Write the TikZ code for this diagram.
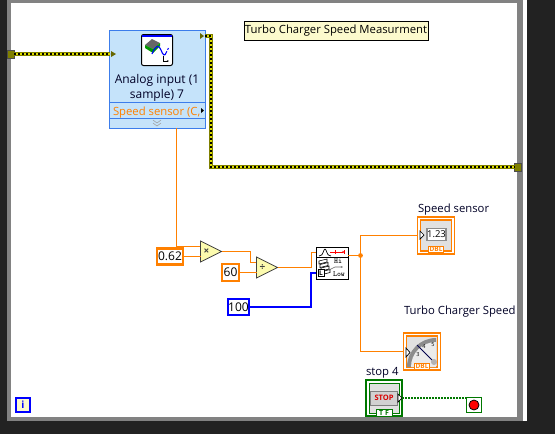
\documentclass[tikz,border=0pt]{standalone}
\usepackage{fontspec}
\setmainfont{Open Sans}
\usetikzlibrary{arrows.meta, shapes.geometric}
\definecolor{numcolor}{RGB}{255, 128, 0}
\definecolor{intcolor}{RGB}{0, 0, 255}
\definecolor{boolcolor}{RGB}{0, 120, 0}
\definecolor{buscolor}{RGB}{128, 128, 0}
\definecolor{busfill}{RGB}{220, 220, 0}
\definecolor{panelcolor}{RGB}{130, 130, 130}
\definecolor{darkcolor}{RGB}{34, 34, 34}
\definecolor{daqfill}{RGB}{197, 227, 250}
\definecolor{daqedge}{RGB}{60, 125, 235}
\definecolor{funcfill}{RGB}{252, 250, 205}
\definecolor{termfill}{RGB}{225, 225, 225}

\begin{document}
\begin{tikzpicture}[
    x=1pt, y=-1pt,
    every node/.style={inner sep=0pt, outer sep=0pt},
    label text/.style={font=\fontsize{11.3}{13}\selectfont, text=black!85!blue},
    constbox/.style={draw=#1, line width=2.8pt, fill=white, font=\fontsize{12}{13}\selectfont},
    funcnode/.style={isosceles triangle, isosceles triangle stretches, shape border rotate=0,
      draw=black!75, line width=0.8pt, fill=funcfill!85!yellow, minimum width=21pt, minimum height=21pt},
    termbox/.style={draw=#1, line width=1.2pt, minimum width=37pt, minimum height=37pt},
    tiptri/.style={draw=black, fill=white, line width=0.7pt},
    numwire/.style={numcolor, line width=1pt},
    intwire/.style={intcolor, line width=1.5pt},
    boolwire/.style={boolcolor, line width=1.5pt, dash pattern=on 1.5pt off 1.5pt},
    buswire/.style={buscolor, line width=3.4pt,
      postaction={draw=busfill, line width=1.8pt},
      postaction={draw=black, line width=1.8pt, dash pattern=on 2pt off 2pt}},
    tunnel/.style={draw=black!70, fill=buscolor, minimum width=7pt, minimum height=8pt},
  ]

  % --- Window ---
  \useasboundingbox (0, 0) rectangle (555, 434);
  \fill[darkcolor] (0, 0) rectangle (555, 434);
  \fill[white] (523, 0) rectangle (527, 421);
  \fill[panelcolor] (7, 0) rectangle (523, 421);
  \fill[white] (11, 3) rectangle (517, 417);

  % --- Comment and labels ---
  \node[draw=black, fill=funcfill, minimum width=184pt, minimum height=19pt,
    font=\fontsize{11.3}{13}\selectfont] (note) at (336, 30.5) {\raisebox{-1pt}{Turbo Charger Speed Measurment}};
  \node[label text, anchor=west] (speedlabel) at (418, 209.5) {Speed sensor};
  \node[label text, anchor=west] (turbolabel) at (404, 311.5) {Turbo Charger Speed};
  \node[label text, anchor=west] (stoplabel) at (366, 372.5) {stop 4};

  % --- DAQ assistant ---
  \node[draw=daqedge, fill=daqfill, line width=1pt, minimum width=96pt, minimum height=98pt]
    (daq) at (157, 79) {};
  \draw[daqedge, line width=1pt] (109, 102.5) -- (205, 102.5) (109, 118.5) -- (205, 118.5);
  \node[draw=black, fill=white, rounded corners=2pt, line width=1pt, minimum width=31pt,
    minimum height=31pt] (daqicon) at (157, 50) {};
  \fill[intcolor] (142, 35) rectangle (172, 36.5);
  \fill[black!60] (145, 45) -- (152, 39) -- (160, 43) -- (153, 49) -- cycle;
  \fill[green!60!black] (145, 45) -- (153, 49) -- (160, 43) -- (160, 46) -- (153, 53) -- (145, 48) -- cycle;
  \draw[intcolor, line width=1.1pt] (152, 54) .. controls (156, 44) and (159, 45) .. (161, 50)
    .. controls (163, 56) and (165, 56) .. (166, 53);
  \draw[intcolor, line width=1.1pt, dash pattern=on 2pt off 1.5pt] (166, 53) -- (169, 47);
  \draw[black, -{Stealth[length=2pt]}, line width=0.7pt] (163, 56) -- (163, 61) -- (169, 61);
  \node[font=\fontsize{12}{15}\selectfont, align=center, text=black!85!blue] (daqtext)
    at (157, 87.5) {Analog input (1\\sample) 7};
  \node[font=\fontsize{11.3}{13}\selectfont, text=numcolor, anchor=west] (daqrow)
    at (113, 112.5) {Speed sensor (C,};
  \fill[black] (201, 108) -- (204, 110.5) -- (201, 113) -- cycle;
  \draw[black!40, line width=0.5pt] (153, 120) -- (157, 123) -- (161, 120)
    (153, 123) -- (157, 126) -- (161, 123);
  \fill[buscolor!80!black] (111, 51) -- (116, 54) -- (111, 57) -- cycle;
  \fill[buscolor!80!black] (200, 33) -- (204, 36) -- (200, 39) -- cycle;

  % --- Error wires and tunnels ---
  \node[tunnel] (tunnelin) at (10.5, 54) {};
  \node[tunnel] (tunnelout) at (518, 167) {};
  \coordinate (daqerrin) at (110, 54);
  \coordinate (daqerrout) at (205, 36);
  \coordinate (buscorner) at (211, 36);
  \draw[buswire] (tunnelin.east) -- (daqerrin);
  \draw[buswire] (daqerrout) -- (buscorner) |- (tunnelout.west);

  % --- Constants and functions ---
  \node[constbox=numcolor, minimum width=26pt, minimum height=16pt] (gain) at (170, 256.5) {0.62};
  \node[constbox=numcolor, minimum width=17pt, minimum height=17pt] (divisor) at (230.5, 272.5) {60};
  \node[constbox=intcolor, minimum width=21pt, minimum height=16pt] (limit) at (238.5, 307) {100};
  \node[funcnode] (mult) at (207, 251.5) {};
  \node[funcnode] (divide) at (263, 267.5) {};
  \node[font=\fontsize{10}{10}\selectfont\bfseries, text=black!75] (multsign) at (206.5, 251.5) {×};
  \node[font=\fontsize{10}{10}\selectfont\bfseries, text=black!75] (divsign) at (262.5, 267.5) {÷};

  % --- Peak detector ---
  \node[draw=black, fill=white, line width=1pt, minimum width=32pt, minimum height=32pt]
    (peak) at (332, 263) {};
  \draw[black, line width=1pt] (316, 257.5) -- (348, 257.5);
  \draw[black, line width=0.7pt] (319, 256) .. controls (324, 256) and (323, 249) .. (325, 249)
    .. controls (327, 249) and (326, 256) .. (331, 256);
  \draw[red, line width=0.8pt, -{Stealth[length=3pt]}] (330, 252) -- (345, 252);
  \draw[red, line width=0.8pt] (335, 250) -- (335, 254) (344, 250) -- (344, 254);
  \foreach \i in {0, 1, 2, 3} {
    \draw[black, fill=white, line width=0.6pt] (319+\i, 261+3.5*\i) -- (327+\i, 259+3.5*\i)
      -- (327+\i, 262+3.5*\i) -- (319+\i, 264+3.5*\i) -- cycle;
  }
  \node[draw=black, fill=white, line width=0.6pt, minimum width=6pt, minimum height=7pt,
    font=\fontsize{6.5}{6.5}\selectfont\bfseries] (peakl) at (321, 273) {L};
  \node[font=\fontsize{7.5}{7.5}\selectfont\ttfamily\bfseries] (peakhi) at (338, 261) {Hi};
  \node[font=\fontsize{7.5}{7.5}\selectfont\ttfamily\bfseries] (peaklow) at (339, 274) {Low};
  \draw[black!60, line width=0.6pt, -{Stealth[length=2pt]}] (329, 270) -- (335, 267) -- (343, 267);

  % --- Speed sensor indicator ---
  \node[termbox=numcolor, fill=white] (speedterm) at (436, 235.5) {};
  \node[draw=numcolor, fill=termfill, line width=1.2pt, minimum width=31pt, minimum height=31pt]
    (speedinner) at (436, 235.5) {};
  \node[draw=black!45, line width=1.5pt, fill=white, minimum width=19pt, minimum height=12pt,
    font=\fontsize{9.5}{9.5}\selectfont] (speedvalue) at (436.5, 234.5) {1.23};
  \node[fill=white, draw=numcolor, line width=0.8pt, minimum width=15pt, minimum height=6pt,
    font=\fontsize{6.5}{6.5}\selectfont\bfseries, text=numcolor] (speeddbl) at (436, 249) {DBL};
  \draw[tiptri] (420, 231) -- (424, 235) -- (420, 239) -- cycle;

  % --- Turbo speed gauge ---
  \node[termbox=numcolor, fill=white] (gaugeterm) at (422, 351.5) {};
  \node[draw=numcolor, fill=termfill, line width=1.2pt, minimum width=31pt, minimum height=31pt]
    (gaugeinner) at (422, 351.5) {};
  \fill[black!45] (407, 367) arc[start angle=180, end angle=270, radius=29] -- (436, 367) -- cycle;
  \fill[black!8] (411, 367) arc[start angle=180, end angle=270, radius=25] -- (436, 367) -- cycle;
  \draw[black!70!blue, line width=1pt] (417, 345) -- (433, 361);
  \fill[black!30] (434, 362) circle (3pt);
  \node[font=\fontsize{5.5}{6}\selectfont] (gaugethree) at (418, 355) {3};
  \node[font=\fontsize{5.5}{6}\selectfont] (gaugefour) at (424, 347) {4};
  \node[font=\fontsize{5.5}{6}\selectfont] (gaugefive) at (433, 345) {5};
  \node[fill=white, draw=numcolor, line width=0.8pt, minimum width=15pt, minimum height=6pt,
    font=\fontsize{6.5}{6.5}\selectfont\bfseries, text=numcolor] (gaugedbl) at (422, 366) {DBL};
  \draw[tiptri] (406, 348) -- (410, 352.5) -- (406, 357) -- cycle;

  % --- Stop button ---
  \node[draw=boolcolor, fill=white, line width=2.2pt, minimum width=36pt, minimum height=36pt]
    (stopterm) at (384, 398) {};
  \node[draw=boolcolor, fill=termfill, line width=1pt, minimum width=30pt, minimum height=30pt]
    (stopinner) at (384, 398) {};
  \node[draw=black!50, fill=black!18, line width=1pt, minimum width=27pt, minimum height=14pt,
    font=\fontsize{7.5}{7.5}\selectfont\bfseries, text=red!85!black] (stopbutton) at (384, 398) {STOP};
  \node[draw=boolcolor, fill=white, line width=0.8pt, minimum width=16pt, minimum height=7pt,
    font=\fontsize{7}{7}\selectfont\bfseries, text=boolcolor] (stoptf) at (384, 412.5) {T F};
  \draw[tiptri] (398, 394) -- (402, 398) -- (398, 402) -- cycle;

  % --- Loop condition ---
  \node[draw=boolcolor, fill=white, line width=1pt, minimum width=15pt, minimum height=15pt]
    (loopstop) at (474, 405) {};
  \node[circle, draw=black, fill=red, line width=0.8pt, minimum size=10pt] (loopdot) at (474, 405) {};

  % --- Iteration info ---
  \node[draw=intcolor, fill=funcfill, line width=2pt, minimum width=14pt, minimum height=14pt,
    font=\fontsize{10}{10}\selectfont\bfseries, text=intcolor] (iter) at (23, 405) {i};

  % --- Wires ---
  \coordinate (daqout) at (176.5, 128);
  \coordinate (multin) at (200, 246.5);
  \coordinate (multout) at (250.5, 251.5);
  \coordinate (divin) at (256, 262.5);
  \coordinate (peaktop) at (316, 252.5);
  \coordinate (peakbot) at (316, 273);
  \coordinate (elbowtop) at (311.5, 267.5);
  \coordinate (elbowbot) at (311, 307);
  \coordinate (peakout) at (348, 255.5);
  \coordinate (branch) at (360.5, 255.5);
  \draw[numwire] (daqout) |- (multin);
  \draw[numwire] (gain.east) -- (gain.east -| mult.west);
  \draw[numwire] (mult.apex) -- (multout) -- (multout |- divin) -- (divin);
  \draw[numwire] (divisor.east) -- (divisor.east -| divide.west);
  \draw[numwire] (divide.apex) -- (elbowtop) -- (elbowtop |- peaktop) -- (peaktop);
  \draw[intwire] (limit.east) -- (elbowbot) -- (elbowbot |- peakbot) -- (peakbot);
  \draw[numwire] (peakout) -- (branch);
  \draw[numwire] (branch) |- (speedterm.west);
  \draw[numwire] (branch) |- (gaugeterm.west);
  \fill[numcolor] (branch) circle (2.4pt);
  \draw[boolwire] (stopterm.east |- 0, 398) -- (loopstop.west |- 0, 398);

\end{tikzpicture}
\end{document}
